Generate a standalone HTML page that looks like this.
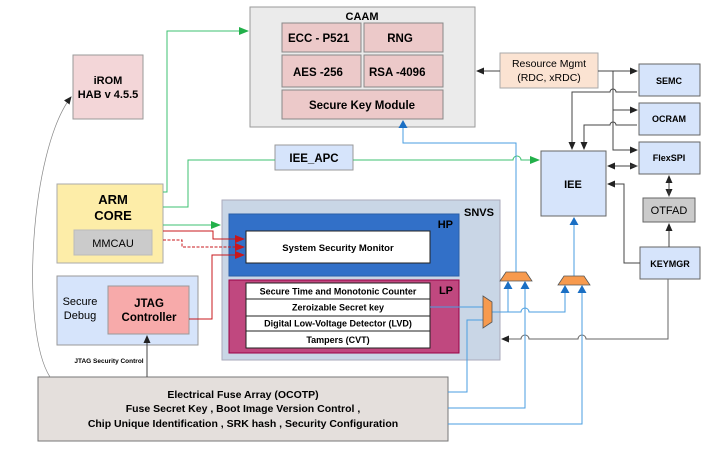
<!DOCTYPE html>
<html><head><meta charset="utf-8"><style>
body{margin:0;background:#fff;}
svg{display:block;font-family:"Liberation Sans",Arial,sans-serif;}
.b{font-weight:bold;}
</style></head><body>
<svg width="714" height="452" viewBox="0 0 714 452" xmlns="http://www.w3.org/2000/svg">
<defs>
<marker id="ak" markerWidth="8" markerHeight="8" refX="7" refY="4" orient="auto" markerUnits="userSpaceOnUse"><path d="M0,0.5 L8,4 L0,7.5z" fill="#222"/></marker>
<marker id="ag" markerWidth="10" markerHeight="8" refX="9" refY="4" orient="auto" markerUnits="userSpaceOnUse"><path d="M0,0 L10,4 L0,8z" fill="#22b04a"/></marker>
<marker id="ar" markerWidth="10" markerHeight="8" refX="9" refY="4" orient="auto" markerUnits="userSpaceOnUse"><path d="M0,0 L10,4 L0,8z" fill="#c8181c"/></marker>
<marker id="ab" markerWidth="8" markerHeight="9" refX="7" refY="4.5" orient="auto" markerUnits="userSpaceOnUse"><path d="M0,0 L8,4.5 L0,9z" fill="#1a6fc4"/></marker>
</defs>

<rect x="250" y="7" width="225" height="120" fill="#ebebeb" stroke="#999"/>
<text x="362" y="20" text-anchor="middle" font-size="11" class="b">CAAM</text>
<g fill="#ecc9c9" stroke="#888">
<rect x="282" y="23" width="79" height="29"/><rect x="364" y="23" width="79" height="29"/>
<rect x="282" y="55" width="79" height="32"/><rect x="364" y="55" width="79" height="32"/>
<rect x="282" y="90" width="161" height="29"/></g>
<g font-size="11.5" class="b">
<text x="288" y="42">ECC - P521</text><text x="400" y="42" text-anchor="middle">RNG</text>
<text x="293" y="76">AES -256</text><text x="369" y="76">RSA -4096</text>
<text x="362" y="109" text-anchor="middle">Secure Key Module</text></g>

<rect x="73" y="55" width="70" height="64" fill="#f3d6d8" stroke="#999"/>
<text x="108" y="84" text-anchor="middle" font-size="11" class="b">iROM</text>
<text x="108" y="98" text-anchor="middle" font-size="11" class="b">HAB v 4.5.5</text>

<rect x="275" y="145" width="78" height="25" fill="#d6e4fb" stroke="#999"/>
<text x="314" y="162" text-anchor="middle" font-size="11.5" class="b">IEE_APC</text>

<rect x="57" y="184" width="106" height="79" fill="#fdeda8" stroke="#aaa"/>
<text x="113" y="204" text-anchor="middle" font-size="13" class="b">ARM</text>
<text x="113" y="220" text-anchor="middle" font-size="13" class="b">CORE</text>
<rect x="74" y="230" width="78" height="25" fill="#cbcbcb" stroke="#bbb"/>
<text x="113" y="247" text-anchor="middle" font-size="11">MMCAU</text>

<rect x="57" y="276" width="141" height="69" fill="#d6e4fb" stroke="#999"/>
<text x="80" y="305" text-anchor="middle" font-size="11">Secure</text>
<text x="80" y="319" text-anchor="middle" font-size="11">Debug</text>
<rect x="108" y="286" width="81" height="48" fill="#f7aaaa" stroke="#999"/>
<text x="149" y="307" text-anchor="middle" font-size="11.5" class="b">JTAG</text>
<text x="149" y="321" text-anchor="middle" font-size="11.5" class="b">Controller</text>
<text x="109" y="363" text-anchor="middle" font-size="6.5" class="b">JTAG Security Control</text>

<rect x="222" y="200" width="278" height="160" fill="#c9d6e6" stroke="#aab"/>
<text x="494" y="216" text-anchor="end" font-size="11" class="b">SNVS</text>
<rect x="229" y="214" width="230" height="62" fill="#3270c8" stroke="#2a5fa8"/>
<text x="453" y="228" text-anchor="end" font-size="11" class="b">HP</text>
<rect x="246" y="231" width="184" height="32" fill="#fff" stroke="#222"/>
<text x="338" y="251" text-anchor="middle" font-size="9.5" class="b">System Security Monitor</text>
<rect x="229" y="280" width="230" height="73" fill="#c0487f" stroke="#904"/>
<text x="453" y="294" text-anchor="end" font-size="11" class="b">LP</text>
<g fill="#fff" stroke="#222"><rect x="246" y="283" width="184" height="16"/><rect x="246" y="299" width="184" height="17"/><rect x="246" y="316" width="184" height="15"/><rect x="246" y="331" width="184" height="17"/></g>
<g font-size="9" class="b" text-anchor="middle">
<text x="338" y="294.5">Secure Time and Monotonic Counter</text>
<text x="338" y="310.5">Zeroizable Secret key</text>
<text x="338" y="326.5">Digital Low-Voltage Detector (LVD)</text>
<text x="338" y="343">Tampers (CVT)</text></g>

<rect x="38" y="377" width="410" height="64" fill="#e4dfdc" stroke="#777"/>
<g font-size="10.5" class="b" text-anchor="middle">
<text x="243" y="398">Electrical Fuse Array  (OCOTP)</text>
<text x="243" y="412">Fuse Secret Key , Boot Image Version Control ,</text>
<text x="243" y="427">Chip Unique Identification , SRK hash , Security Configuration</text></g>

<rect x="500" y="53" width="98" height="35" fill="#fbe3d2" stroke="#aaa"/>
<text x="549" y="67" text-anchor="middle" font-size="10.5">Resource Mgmt</text>
<text x="549" y="81" text-anchor="middle" font-size="10.5">(RDC, xRDC)</text>
<g fill="#d6e4fb" stroke="#666">
<rect x="639" y="64" width="61" height="32"/><rect x="639" y="103" width="61" height="32"/><rect x="639" y="142" width="61" height="32"/>
<rect x="541" y="151" width="65" height="65"/><rect x="640" y="247" width="60" height="32"/></g>
<rect x="643" y="198" width="52" height="24" fill="#cbcbcb" stroke="#666"/>
<g font-size="9" class="b" text-anchor="middle">
<text x="669" y="84">SEMC</text><text x="669" y="122">OCRAM</text><text x="669" y="161">FlexSPI</text>
<text x="670" y="267">KEYMGR</text></g>
<text x="573" y="188" text-anchor="middle" font-size="11" class="b">IEE</text>
<text x="669" y="214" text-anchor="middle" font-size="11">OTFAD</text>

<g fill="none" stroke="#444" stroke-width="1">
<path d="M500,71 L477,71" marker-end="url(#ak)"/>
<path d="M598,71 L637,71" marker-end="url(#ak)"/>
<path d="M613,71 L613,150 L637,150" marker-end="url(#ak)"/>
<path d="M613,110 L637,110" marker-end="url(#ak)"/>
<path d="M637,92 L616,92 A3,3 0 0 0 610,92 L572,92 L572,149" marker-end="url(#ak)"/>
<path d="M637,125 L616,125 A3,3 0 0 0 610,125 L584,125 L584,149" marker-end="url(#ak)"/>
<path d="M608,166 L637,166" marker-end="url(#ak)"/>
<path d="M637,166 L608,166" marker-end="url(#ak)"/>
<path d="M669,176 L669,196" marker-end="url(#ak)"/>
<path d="M669,196 L669,176" marker-end="url(#ak)"/>
<path d="M669,247 L669,224" marker-end="url(#ak)"/>
<path d="M640,263 L624,263 L624,184 L608,184" marker-end="url(#ak)"/>
<path d="M668,279 L668,339 L586,339 A4,4 0 0 0 578,339 L529,339 A4,4 0 0 0 521,339 L502,339" marker-end="url(#ak)" stroke="#666"/>
<path d="M147,377 L147,336" marker-end="url(#ak)"/>
<path d="M50,377 C20,330 30,150 71,97" stroke="#888" stroke-width="0.7" marker-end="url(#ak)"/>
</g>

<g fill="none" stroke="#3cc070" stroke-width="1">
<path d="M163,192 L167,192 L167,31 L248,31" marker-end="url(#ag)"/>
<path d="M163,207 L188,207 L188,160 L275,160"/>
<path d="M353,160 L513,160 A4,4 0 0 1 521,160 L539,160" marker-end="url(#ag)"/>
<path d="M163,225 L220,225" marker-end="url(#ag)"/>
</g>

<g fill="none" stroke="#c8181c" stroke-width="1">
<path d="M163,231 L213,231 L213,239 L244,239" marker-end="url(#ar)"/>
<path d="M163,240 L182,240 L182,247 L244,247" stroke-dasharray="3,1.5" marker-end="url(#ar)"/>
<path d="M189,319 L212,319 L212,255 L244,255" marker-end="url(#ar)"/>
</g>

<g fill="none" stroke="#4a9ee0" stroke-width="1">
<path d="M516,273 L516,143 L403,143 L403,121" marker-end="url(#ab)"/>
<path d="M574,276 L574,218" marker-end="url(#ab)"/>
<path d="M430,307 L483,307"/>
<path d="M448,392 L467,392 L467,320 L483,320"/>
<path d="M492,312 L521,312 A4,4 0 0 1 529,312 L565,312 L565,286" marker-end="url(#ab)"/>
<path d="M508,312 L508,282" marker-end="url(#ab)"/>
<path d="M448,408 L525,408 L525,282" marker-end="url(#ab)"/>
<path d="M448,424 L582,424 L582,286" marker-end="url(#ab)"/>
</g>

<g fill="#f79a4e" stroke="#555" stroke-width="0.8">
<path d="M506,272 L526,272 L532,281 L500,281z"/>
<path d="M564,276 L584,276 L590,285 L558,285z"/>
<path d="M483,296 L492,302 L492,322 L483,328z"/>
</g>
</svg>
</body></html>
